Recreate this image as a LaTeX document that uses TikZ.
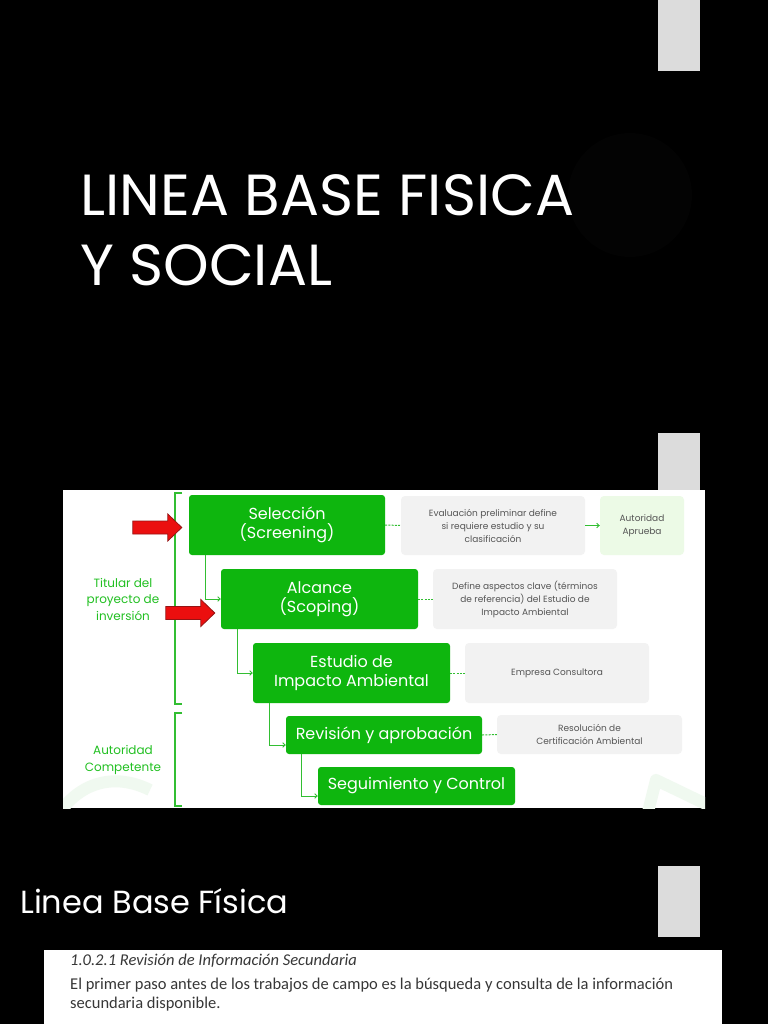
\documentclass[tikz,border=0pt]{standalone}
\usepackage{fontspec}
\setmainfont{Poppins}
\newfontfamily\docfont{Carlito}
\usetikzlibrary{arrows.meta}

\definecolor{gbox}{RGB}{14,182,14}
\definecolor{gtxt}{RGB}{34,192,34}
\definecolor{gline}{RGB}{50,190,50}
\definecolor{graybox}{RGB}{242,242,242}
\definecolor{graytxt}{RGB}{85,85,85}
\definecolor{lgbox}{RGB}{236,250,230}
\definecolor{redarr}{RGB}{235,15,15}
\definecolor{rededge}{RGB}{150,20,20}
\definecolor{panel}{RGB}{220,220,220}
\definecolor{pale}{RGB}{240,249,240}
\definecolor{darkdisc}{RGB}{3,3,3}
\definecolor{doctxt}{RGB}{55,55,55}

\begin{document}
\begin{tikzpicture}[x=1pt,y=-1pt,
  greenbox/.style={fill=gbox, rounded corners=3pt, text=white, align=center, inner sep=0pt, font=\fontsize{16}{19.5}\selectfont},
  graynote/.style={fill=graybox, rounded corners=4pt, text=graytxt, align=center, inner sep=0pt, font=\fontsize{9}{13}\selectfont},
  flow/.style={draw=gline, line width=0.9pt, -{Straight Barb[length=2.5pt,width=4.5pt]}},
  dotlink/.style={draw=gline, line width=1pt, dash pattern=on 2pt off 1.2pt},
  bracket/.style={draw=gline, line width=1.4pt},
  sidelabel/.style={text=gtxt, align=center, font=\fontsize{12}{16.5}\selectfont},
  redarrow/.pic={\filldraw[fill=redarr, draw=rededge, line width=0.8pt]
     (0,0) -- (-14,-13.5) -- (-14,-6.5) -- (-49,-6.5) -- (-49,6.5) -- (-14,6.5) -- (-14,13.5) -- cycle;}
]
\useasboundingbox (0,0) rectangle (768,1024);
\fill[black] (0,0) rectangle (768,1024);

% background decorations
\fill[darkdisc] (630,195) circle[radius=62];
\fill[panel] (658,0) rectangle (700,71);
\fill[panel] (658,433) rectangle (700,490);
\fill[panel] (658,866) rectangle (700,937);

% titles
\node[anchor=base west, text=white, inner sep=0pt, font=\fontsize{58}{70}\selectfont] (t1) at (80,215) {LINEA BASE FISICA};
\node[anchor=base west, text=white, inner sep=0pt, font=\fontsize{58}{70}\selectfont] (t2) at (80,285) {Y SOCIAL};
\node[anchor=base west, text=white, inner sep=0pt, font=\fontsize{32}{40}\selectfont] (t3) at (20,913) {Linea Base Física};

% diagram panel
\fill[white] (63,490) rectangle (705,808);
\begin{scope}
  \clip (63,490) rectangle (705,808);
  \draw[pale, line width=12pt] (50,830) .. controls (70,785) and (110,770) .. (150,790);
  \draw[pale, line width=12pt, line join=round] (648,812) -- (656,780) -- (710,806);
\end{scope}

% brackets
\draw[bracket] (182,493) -- (175,493) -- (175,704) -- (182,704);
\draw[bracket] (182,713) -- (175,713) -- (175,806) -- (182,806);

\node[sidelabel] (lab1) at (123,599) {Titular del\\proyecto de\\inversión};
\node[sidelabel] (lab2) at (123,760) {Autoridad\\Competente};

% green boxes
\node[greenbox, minimum width=196pt, minimum height=60pt] (b1) at (287,525) {Selección\\(Screening)};
\node[greenbox, minimum width=197pt, minimum height=60pt] (b2) at (319.5,599) {Alcance\\(Scoping)};
\node[greenbox, minimum width=197pt, minimum height=60pt] (b3) at (351.5,673) {Estudio de\\Impacto Ambiental};
\node[greenbox, minimum width=196pt, minimum height=38pt] (b4) at (384,735) {Revisión y aprobación};
\node[greenbox, minimum width=197pt, minimum height=38pt] (b5) at (416.5,786) {Seguimiento y Control};

% gray notes
\node[graynote, minimum width=184pt, minimum height=59pt] (n1) at (493,525.5) {Evaluación preliminar define\\si requiere estudio y su\\clasificación};
\node[graynote, fill=lgbox, minimum width=84pt, minimum height=59pt] (n2) at (642,525.5) {Autoridad\\Aprueba};
\node[graynote, minimum width=184pt, minimum height=60pt] (n3) at (525,599) {Define aspectos clave (términos\\de referencia) del Estudio de\\Impacto Ambiental};
\node[graynote, minimum width=184pt, minimum height=60pt] (n4) at (557,673) {Empresa Consultora};
\node[graynote, minimum width=185pt, minimum height=39pt] (n5) at (589.5,734.5) {Resolución de\\Certificación Ambiental};

% connectors
\draw[flow] ([xshift=17pt]b1.south west) |- (b2.west);
\draw[flow] ([xshift=17pt]b2.south west) |- (b3.west);
\draw[flow] ([xshift=17pt]b3.south west) |- ([yshift=-10pt]b4.west);
\draw[flow] ([xshift=16pt]b4.south west) |- ([yshift=-10pt]b5.west);
\draw[dotlink] (b1.east) -- (n1.west);
\draw[dotlink] (b2.east) -- (n3.west);
\draw[dotlink] (b3.east) -- (n4.west);
\draw[dotlink] (b4.east) -- (n5.west);
\draw[flow] (n1.east) -- (n2.west);

% red arrows
\coordinate (r1) at ([xshift=-7pt, yshift=-2.5pt]b1.west);
\coordinate (r2) at ([xshift=-6pt, yshift=-14pt]b2.west);
\pic at (r1) {redarrow};
\pic at (r2) {redarrow};

% bottom document excerpt
\fill[white] (44,950) rectangle (722,1024);
\node[anchor=base west, inner sep=0pt, text=doctxt, font=\docfont\itshape\fontsize{16.5}{19}\selectfont] (d1) at (70,965) {1.0.2.1 Revisión de Información Secundaria};
\node[anchor=base west, inner sep=0pt, text=doctxt, font=\docfont\fontsize{16.5}{19}\selectfont] (d2) at (70,989) {El primer paso antes de los trabajos de campo es la búsqueda y consulta de la información};
\node[anchor=base west, inner sep=0pt, text=doctxt, font=\docfont\fontsize{16.5}{19}\selectfont] (d3) at (70,1008) {secundaria disponible.};
\end{tikzpicture}
\end{document}
